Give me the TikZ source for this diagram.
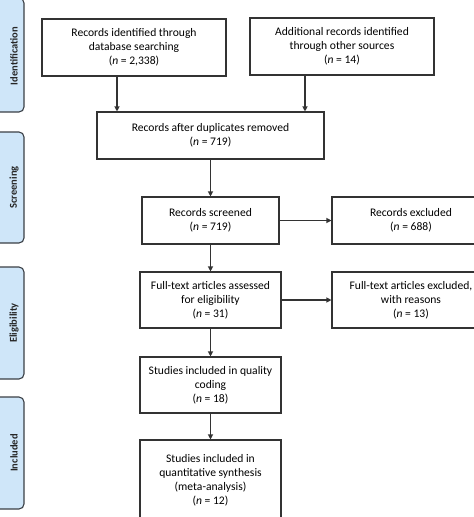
\documentclass[tikz,border=0pt]{standalone}
\usepackage{fontspec}
\setmainfont{Carlito}
\usetikzlibrary{arrows.meta,positioning}
\definecolor{edge}{HTML}{333333}
\definecolor{bandfill}{HTML}{CFE6F9}
\definecolor{bandedge}{HTML}{3A3F45}
\tikzset{box/.style={draw=edge, line width=1.1pt, fill=white, align=center, inner sep=2pt, font=\fontsize{11.6}{14}\selectfont}, arr/.style={-{Triangle[length=5pt,width=5pt]}, line width=1.1pt, color=edge}, band/.style={draw=bandedge, fill=bandfill, line width=1.1pt, rounded corners=5pt}, bandlab/.style={font=\bfseries\fontsize{10.5}{12}\selectfont, rotate=90, text=black!85}}

\begin{document}
\begin{tikzpicture}[x=1pt,y=-1pt]
\useasboundingbox (0,0) rectangle (474,517); \clip (0,0) rectangle (474,517);
% phase bands on the left
\draw[band] (-10,-2) rectangle (24,112); \node[bandlab] (bid) at (14,56) {Identification};
\draw[band] (-10,132) rectangle (24,243); \node[bandlab] (bsc) at (14,187.5) {Screening};
\draw[band] (-10,267) rectangle (24,379); \node[bandlab] (bel) at (14,323) {Eligibility};
\draw[band] (-10,397) rectangle (24,509); \node[bandlab] (bin) at (14,453) {Included};
% boxes
\node[box, minimum width=184pt, minimum height=57pt] (db) at (134,47.5) {Records identified through\\database searching\\(\textit{n} = 2,338)};
\node[box, minimum width=184pt, minimum height=57pt] (other) at (342,46.5) {Additional records identified\\through other sources\\(\textit{n} = 14)};
\node[box, minimum width=227pt, minimum height=47pt] (dup) at (210.5,135.5) {Records after duplicates removed\\(\textit{n} = 719)};
\node[box, minimum width=137pt, minimum height=47pt] (scr) at (210.5,220.5) {Records screened\\(\textit{n} = 719)};
\node[box, minimum width=158pt, minimum height=47pt] (excl) at (411,220.5) {Records excluded\\(\textit{n} = 688)};
\node[box, minimum width=141pt, minimum height=56pt] (full) at (210.5,300) {Full-text articles assessed\\for eligibility\\(\textit{n} = 31)};
\node[box, minimum width=158pt, minimum height=56pt] (fexcl) at (411,300) {Full-text articles excluded,\\with reasons\\(\textit{n} = 13)};
\node[box, minimum width=141pt, minimum height=56pt] (qual) at (210.5,385) {Studies included in quality\\coding\\(\textit{n} = 18)};
\node[box, minimum width=141pt, minimum height=80pt] (meta) at (210.5,480) {Studies included in\\quantitative synthesis\\(meta-analysis)\\(\textit{n} = 12)};
% connectors
\draw[arr] ([xshift=-17pt]db.south) -- ([xshift=-17pt]db.south |- dup.north);
\draw[arr] ([xshift=-37pt]other.south) -- ([xshift=-37pt]other.south |- dup.north);
\draw[arr] (dup) -- (scr);
\draw[arr] (scr) -- (excl);
\draw[arr] (scr) -- (full);
\draw[arr] (full) -- (fexcl);
\draw[arr] (full) -- (qual);
\draw[arr] (qual) -- (meta);
\end{tikzpicture}
\end{document}
